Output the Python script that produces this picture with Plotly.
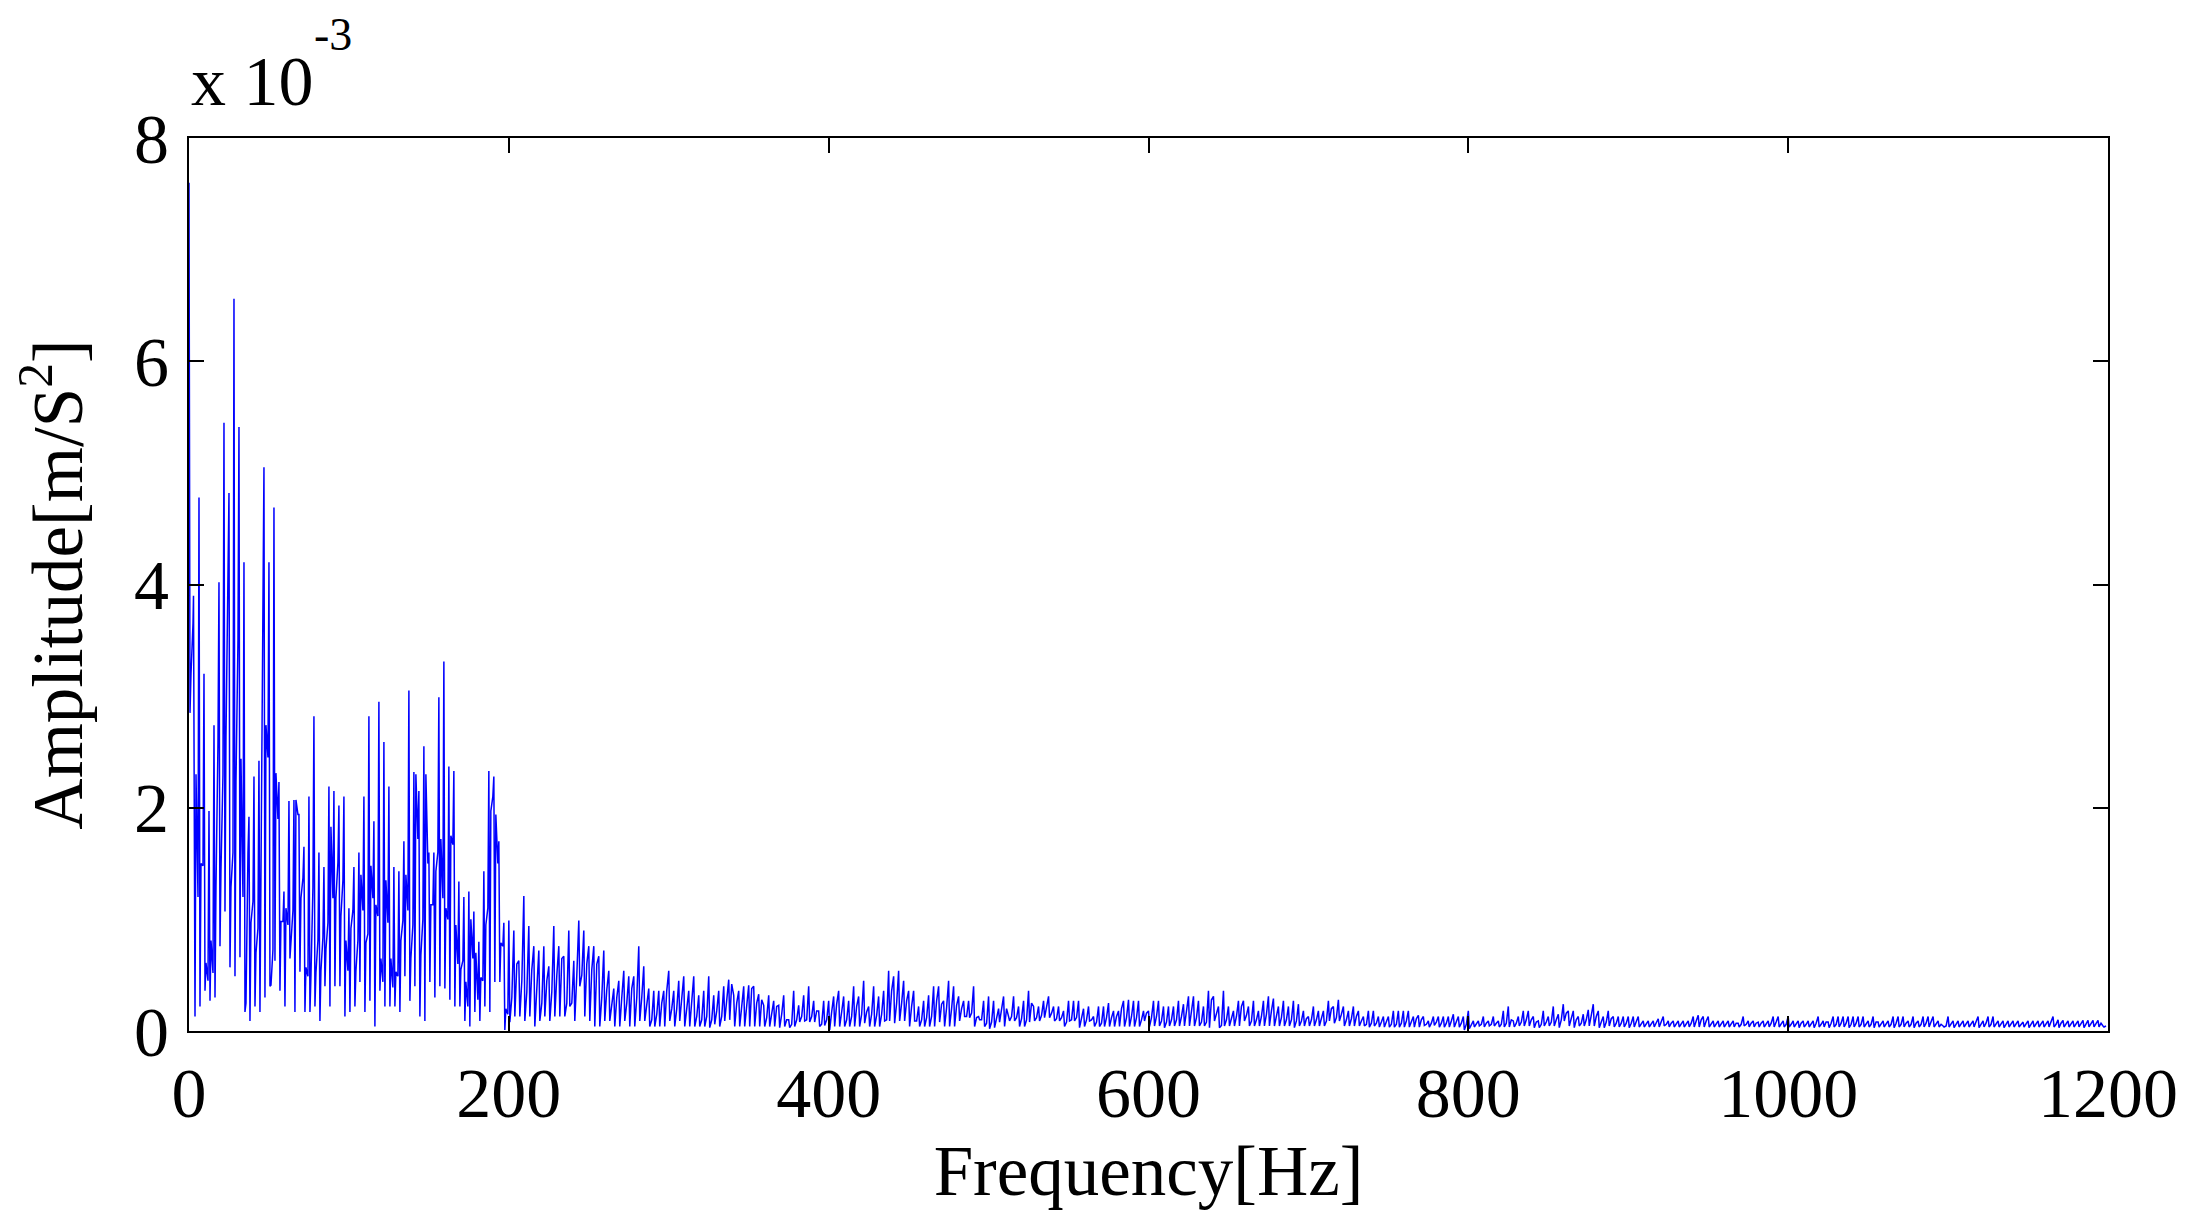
import plotly.graph_objects as go

# all amplitudes in units of 1e-3 m/S^2
# spectrum has a spike every 3.125 Hz with a slow curve in between
spike_hz = 3.125

start_amp = [7.6, 2.85, 3.2, 3.4, 3.65, 3.9]

tops_0 = [2.75, 4.78, 3.2, 1.97, 2.74, 4.02, 5.45, 4.82, 6.56, 5.41, 4.2, 1.92, 2.28, 2.42, 5.05, 4.2, 4.69, 2.23, 1.25, 2.06, 2.07, 1.94, 1.65, 2.1, 2.82, 1.6, 1.47, 2.19, 2.15, 2.02, 2.1, 1.1, 1.47, 1.6, 2.1, 2.82, 1.88, 2.95, 2.59, 2.19, 1.47, 1.43, 1.7, 3.05, 2.32, 2.15, 2.55, 1.6, 1.6, 2.99, 3.31, 2.37, 2.33, 1.34, 1.2, 1.25, 1.07, 0.8, 1.43, 2.33, 2.28, 1.7, 0.97]
lows_0 = [0.13, 0.22, 0.36, 0.27, 0.3, 0.76, 1.07, 0.57, 0.49, 0.66, 0.17, 0.09, 0.22, 0.17, 0.3, 0.4, 0.63, 0.36, 0.22, 0.65, 0.17, 0.53, 0.17, 0.17, 0.22, 0.09, 0.4, 0.22, 0.4, 0.4, 0.13, 0.17, 0.22, 0.44, 0.17, 0.27, 0.04, 0.36, 0.22, 0.22, 0.22, 0.17, 0.49, 0.27, 0.4, 0.13, 0.09, 0.44, 0.3, 0.4, 0.38, 0.28, 0.22, 0.22, 0.09, 0.04, 0.17, 0.09, 0.22, 0.17, 0.44, 0.44, 0.01]
curve_a_0 = [2.3, 1.5, 0.61, 0.81, 1.29, 1.45, 2.63, 1.29, 2.23, 2.44, 0.25, 0.97, 0.7, 1.59, 2.74, 0.41, 2.31, 0.98, 1.1, 0.81, 2.07, 1.19, 0.57, 0.49, 0.52, 0.54, 0.73, 1.83, 1.19, 1.03, 0.81, 0.92, 0.54, 1.4, 0.79, 1.48, 1.13, 0.65, 1.35, 0.65, 0.53, 0.81, 1.4, 0.65, 2.3, 0.68, 2.3, 1.13, 1.43, 1.72, 1.1, 1.75, 0.95, 0.55, 0.44, 1.0, 0.7, 0.48, 0.95, 1.97, 1.94, 0.79, 0.2]
curve_b_0 = [1.2, 1.48, 0.45, 0.52, 2.58, 2.3, 4.15, 1.6, 3.5, 1.2, 1.6, 1.16, 0.92, 3.5, 2.45, 0.73, 1.9, 0.98, 0.95, 1.08, 1.94, 1.37, 0.49, 1.29, 0.81, 0.84, 0.97, 1.19, 1.51, 1.35, 0.54, 1.08, 0.81, 1.08, 0.87, 1.19, 1.03, 0.44, 0.97, 0.39, 0.49, 0.99, 1.08, 0.95, 1.72, 1.0, 1.5, 1.13, 1.6, 1.19, 1.0, 1.67, 0.6, 0.63, 0.22, 0.65, 0.28, 0.45, 1.1, 2.1, 1.5, 0.76, 0.15]

tops_200 = [0.99, 0.9, 0.63, 1.21, 0.94, 0.76, 0.72, 0.76, 0.58, 0.94, 0.76, 0.67, 0.9, 0.63, 0.99, 0.9, 0.76, 0.76, 0.67, 0.72, 0.54, 0.38, 0.45, 0.54, 0.49, 0.49, 0.76, 0.58, 0.38, 0.36, 0.36, 0.36, 0.54, 0.36, 0.45, 0.49, 0.36, 0.49, 0.32, 0.36, 0.49, 0.32, 0.36, 0.4, 0.46, 0.32, 0.36, 0.4, 0.41, 0.4, 0.33, 0.23, 0.32, 0.27, 0.23, 0.32, 0.1, 0.36, 0.23, 0.32, 0.4, 0.27, 0.18, 0.27]
lows_200 = [0.08, 0.13, 0.13, 0.09, 0.13, 0.04, 0.09, 0.13, 0.09, 0.13, 0.13, 0.13, 0.22, 0.09, 0.4, 0.13, 0.09, 0.04, 0.04, 0.09, 0.09, 0.04, 0.04, 0.09, 0.04, 0.04, 0.09, 0.09, 0.04, 0.04, 0.04, 0.04, 0.09, 0.04, 0.09, 0.04, 0.04, 0.04, 0.04, 0.04, 0.03, 0.06, 0.04, 0.09, 0.1, 0.04, 0.04, 0.04, 0.04, 0.04, 0.04, 0.04, 0.04, 0.04, 0.03, 0.04, 0.03, 0.04, 0.08, 0.09, 0.08, 0.08, 0.04, 0.05]
curve_200 = [0.3, 0.6, 0.45, 0.35, 0.55, 0.4, 0.25, 0.45, 0.35, 0.5, 0.65, 0.25, 0.25, 0.5, 0.5, 0.6, 0.55, 0.6, 0.3, 0.37, 0.25, 0.3, 0.3, 0.25, 0.38, 0.3, 0.3, 0.25, 0.1, 0.15, 0.25, 0.36, 0.2, 0.2, 0.3, 0.23, 0.25, 0.13, 0.1, 0.13, 0.1, 0.18, 0.13, 0.3, 0.42, 0.25, 0.2, 0.23, 0.38, 0.25, 0.28, 0.12, 0.17, 0.22, 0.15, 0.1, 0.06, 0.1, 0.13, 0.1, 0.13, 0.18, 0.06, 0.1]

tops_400 = [0.27, 0.31, 0.36, 0.31, 0.27, 0.4, 0.31, 0.45, 0.22, 0.4, 0.31, 0.36, 0.54, 0.49, 0.54, 0.45, 0.36, 0.36, 0.22, 0.27, 0.32, 0.4, 0.4, 0.27, 0.45, 0.4, 0.31, 0.27, 0.27, 0.4, 0.13, 0.27, 0.31, 0.27, 0.2, 0.31, 0.13, 0.31, 0.22, 0.27, 0.36, 0.22, 0.22, 0.27, 0.31, 0.22, 0.22, 0.18, 0.27, 0.27, 0.27, 0.2, 0.22, 0.13, 0.22, 0.22, 0.25, 0.18, 0.18, 0.27, 0.28, 0.27, 0.27, 0.18]
lows_400 = [0.01, 0.04, 0.04, 0.04, 0.04, 0.04, 0.04, 0.07, 0.04, 0.04, 0.04, 0.09, 0.09, 0.07, 0.09, 0.09, 0.04, 0.09, 0.04, 0.04, 0.04, 0.04, 0.08, 0.04, 0.04, 0.04, 0.09, 0.13, 0.12, 0.04, 0.1, 0.04, 0.02, 0.03, 0.08, 0.04, 0.09, 0.09, 0.04, 0.04, 0.08, 0.09, 0.09, 0.12, 0.12, 0.09, 0.09, 0.04, 0.09, 0.09, 0.03, 0.04, 0.09, 0.04, 0.04, 0.04, 0.04, 0.04, 0.04, 0.04, 0.04, 0.04, 0.04, 0.09]
curve_400 = [0.17, 0.24, 0.17, 0.1, 0.13, 0.22, 0.15, 0.17, 0.15, 0.14, 0.15, 0.1, 0.36, 0.25, 0.25, 0.27, 0.22, 0.09, 0.1, 0.12, 0.13, 0.27, 0.24, 0.21, 0.2, 0.23, 0.2, 0.13, 0.16, 0.12, 0.1, 0.07, 0.08, 0.13, 0.2, 0.2, 0.13, 0.12, 0.11, 0.1, 0.25, 0.12, 0.14, 0.2, 0.16, 0.11, 0.12, 0.08, 0.1, 0.12, 0.13, 0.1, 0.1, 0.08, 0.07, 0.12, 0.12, 0.13, 0.2, 0.12, 0.13, 0.12, 0.1, 0.16]

tops_600 = [0.18, 0.27, 0.27, 0.22, 0.22, 0.22, 0.27, 0.24, 0.31, 0.31, 0.27, 0.22, 0.36, 0.31, 0.22, 0.36, 0.22, 0.18, 0.27, 0.27, 0.22, 0.27, 0.18, 0.27, 0.31, 0.29, 0.22, 0.27, 0.22, 0.27, 0.24, 0.18, 0.13, 0.22, 0.18, 0.18, 0.27, 0.22, 0.28, 0.22, 0.18, 0.22, 0.18, 0.13, 0.18, 0.18, 0.13, 0.13, 0.13, 0.18, 0.18, 0.18, 0.18, 0.13, 0.14, 0.13, 0.09, 0.13, 0.13, 0.13, 0.13, 0.15, 0.13, 0.13]
lows_600 = [0.04, 0.045, 0.045, 0.03, 0.045, 0.045, 0.045, 0.045, 0.045, 0.045, 0.045, 0.045, 0.03, 0.09, 0.03, 0.045, 0.045, 0.045, 0.045, 0.09, 0.045, 0.045, 0.045, 0.045, 0.045, 0.045, 0.045, 0.045, 0.045, 0.03, 0.045, 0.045, 0.045, 0.045, 0.045, 0.045, 0.09, 0.07, 0.09, 0.045, 0.045, 0.045, 0.045, 0.045, 0.035, 0.045, 0.035, 0.035, 0.035, 0.035, 0.035, 0.035, 0.035, 0.035, 0.035, 0.05, 0.035, 0.05, 0.035, 0.035, 0.035, 0.035, 0.035, 0.01]
curve_600 = [0.12, 0.13, 0.09, 0.08, 0.1, 0.1, 0.13, 0.16, 0.18, 0.12, 0.08, 0.08, 0.28, 0.15, 0.05, 0.1, 0.12, 0.13, 0.22, 0.14, 0.09, 0.1, 0.13, 0.15, 0.18, 0.13, 0.12, 0.1, 0.1, 0.09, 0.09, 0.11, 0.1, 0.1, 0.11, 0.09, 0.2, 0.12, 0.15, 0.1, 0.11, 0.13, 0.09, 0.06, 0.07, 0.07, 0.08, 0.09, 0.06, 0.06, 0.07, 0.09, 0.09, 0.11, 0.1, 0.06, 0.07, 0.08, 0.07, 0.07, 0.09, 0.08, 0.07, 0.06]

tops_800 = [0.18, 0.09, 0.09, 0.13, 0.09, 0.13, 0.09, 0.18, 0.22, 0.09, 0.13, 0.18, 0.18, 0.13, 0.09, 0.18, 0.13, 0.22, 0.15, 0.24, 0.18, 0.18, 0.13, 0.15, 0.19, 0.24, 0.18, 0.13, 0.18, 0.13, 0.13, 0.13, 0.13, 0.13, 0.13, 0.09, 0.09, 0.09, 0.11, 0.13, 0.09, 0.09, 0.09, 0.09, 0.09, 0.13, 0.14, 0.13, 0.13, 0.09, 0.09, 0.09, 0.09, 0.09, 0.07, 0.13, 0.09, 0.09, 0.08, 0.09, 0.09, 0.13, 0.13, 0.09]
lows_800 = [0.02, 0.036, 0.045, 0.036, 0.045, 0.045, 0.036, 0.036, 0.036, 0.036, 0.045, 0.045, 0.045, 0.03, 0.03, 0.045, 0.045, 0.045, 0.03, 0.09, 0.045, 0.03, 0.045, 0.045, 0.045, 0.045, 0.03, 0.03, 0.045, 0.036, 0.036, 0.036, 0.03, 0.036, 0.036, 0.036, 0.036, 0.036, 0.036, 0.045, 0.036, 0.036, 0.036, 0.036, 0.036, 0.036, 0.036, 0.036, 0.036, 0.036, 0.036, 0.036, 0.036, 0.036, 0.036, 0.045, 0.036, 0.036, 0.036, 0.036, 0.036, 0.036, 0.036, 0.036]
curve_800 = [0.05, 0.07, 0.06, 0.07, 0.06, 0.07, 0.06, 0.07, 0.1, 0.07, 0.08, 0.1, 0.1, 0.08, 0.06, 0.08, 0.08, 0.1, 0.1, 0.16, 0.11, 0.1, 0.07, 0.1, 0.14, 0.13, 0.08, 0.08, 0.11, 0.07, 0.07, 0.07, 0.07, 0.08, 0.07, 0.06, 0.07, 0.07, 0.09, 0.06, 0.07, 0.06, 0.06, 0.07, 0.07, 0.09, 0.1, 0.09, 0.07, 0.06, 0.07, 0.06, 0.06, 0.07, 0.06, 0.06, 0.07, 0.07, 0.07, 0.06, 0.07, 0.08, 0.07, 0.06]

tops_1000 = [0.13, 0.09, 0.09, 0.09, 0.09, 0.09, 0.13, 0.09, 0.08, 0.13, 0.13, 0.13, 0.13, 0.13, 0.13, 0.13, 0.09, 0.13, 0.08, 0.09, 0.09, 0.13, 0.13, 0.13, 0.09, 0.13, 0.09, 0.13, 0.13, 0.13, 0.09, 0.045, 0.13, 0.09, 0.09, 0.09, 0.09, 0.09, 0.13, 0.09, 0.13, 0.13, 0.09, 0.09, 0.09, 0.09, 0.09, 0.08, 0.09, 0.09, 0.09, 0.09, 0.09, 0.13, 0.1, 0.095, 0.09, 0.09, 0.09, 0.095, 0.095, 0.095, 0.095, 0.045]
lows_1000 = [0.036, 0.036, 0.03, 0.036, 0.036, 0.03, 0.036, 0.036, 0.03, 0.036, 0.036, 0.036, 0.03, 0.036, 0.036, 0.036, 0.036, 0.03, 0.036, 0.036, 0.036, 0.03, 0.036, 0.036, 0.036, 0.03, 0.036, 0.036, 0.036, 0.036, 0.036, 0.036, 0.036, 0.03, 0.036, 0.036, 0.036, 0.036, 0.03, 0.036, 0.036, 0.036, 0.036, 0.03, 0.036, 0.036, 0.036, 0.036, 0.03, 0.036, 0.036, 0.036, 0.036, 0.036, 0.03, 0.036, 0.036, 0.036, 0.036, 0.03, 0.036, 0.036, 0.036, 0.036]
curve_1000 = [0.06, 0.06, 0.07, 0.06, 0.06, 0.07, 0.06, 0.08, 0.07, 0.06, 0.07, 0.07, 0.06, 0.07, 0.06, 0.07, 0.06, 0.08, 0.07, 0.07, 0.06, 0.07, 0.06, 0.07, 0.06, 0.07, 0.06, 0.07, 0.08, 0.06, 0.06, 0.045, 0.07, 0.06, 0.07, 0.06, 0.07, 0.08, 0.06, 0.07, 0.06, 0.07, 0.06, 0.06, 0.07, 0.06, 0.06, 0.07, 0.06, 0.07, 0.06, 0.07, 0.08, 0.06, 0.07, 0.07, 0.06, 0.07, 0.07, 0.06, 0.07, 0.07, 0.07, 0.045]

x_ticks = [0, 200, 400, 600, 800, 1000, 1200]
y_ticks = [0, 2, 4, 6, 8]

freq = [spike_hz * i / 5 for i in range(len(start_amp) - 1)]
amp = start_amp[:-1]
amp = amp + [start_amp[-1]]
freq = freq + [spike_hz * 0.9]

# first band keeps two points of the curve between spikes
n = 1
for top, low, a, b in zip(tops_0, lows_0, curve_a_0, curve_b_0):
    freq += [n * spike_hz, (n + 0.2) * spike_hz, (n + 0.4) * spike_hz, (n + 0.8) * spike_hz]
    amp += [top, low, a, b]
    n += 1

bands = [
    (tops_200, lows_200, curve_200),
    (tops_400, lows_400, curve_400),
    (tops_600, lows_600, curve_600),
    (tops_800, lows_800, curve_800),
    (tops_1000, lows_1000, curve_1000),
]
for tops, lows, curve in bands:
    for top, low, c in zip(tops, lows, curve):
        freq += [n * spike_hz, (n + 0.2) * spike_hz, (n + 0.6) * spike_hz]
        amp += [top, low, c]
        n += 1

fig = go.Figure()
fig.add_trace(go.Scatter(x=freq, y=amp, mode="lines", line=dict(color="#0000ff", width=1.5), showlegend=False))

serif = "Liberation Serif"
fig.update_layout(
    width=2188,
    height=1214,
    autosize=False,
    paper_bgcolor="white",
    plot_bgcolor="white",
    margin=dict(l=181, r=88, t=130, b=191),
    font=dict(family=serif, size=70, color="black"),
)
fig.update_xaxes(
    range=[0, 1200], tickvals=x_ticks, ticks="inside", ticklen=15, tickwidth=1.5, tickcolor="black",
    showline=True, linecolor="black", linewidth=2, mirror="allticks", showgrid=False, zeroline=False,
    tickfont=dict(family=serif, size=70, color="black"),
    title=dict(text="Frequency[Hz]", font=dict(family=serif, size=71, color="black"), standoff=0),
)
fig.update_yaxes(
    range=[0, 8], tickvals=y_ticks, ticks="inside", ticklen=15, tickwidth=1.5, tickcolor="black",
    showline=True, linecolor="black", linewidth=2, mirror="allticks", showgrid=False, zeroline=False,
    ticklabelstandoff=4,
    tickfont=dict(family=serif, size=70, color="black"),
    title=dict(text="Amplitude[m/S<sup>2</sup>]", font=dict(family=serif, size=71, color="black"), standoff=30),
)
fig.add_annotation(
    text="x 10", xref="paper", yref="paper", x=0, y=1, xanchor="left", yanchor="bottom", yshift=16,
    showarrow=False, font=dict(family=serif, size=70, color="black"),
)
fig.add_annotation(
    text="-3", xref="paper", yref="paper", x=0, y=1, xanchor="left", yanchor="bottom", xshift=123, yshift=76,
    showarrow=False, font=dict(family=serif, size=46, color="black"),
)

fig.write_html("out.html")
